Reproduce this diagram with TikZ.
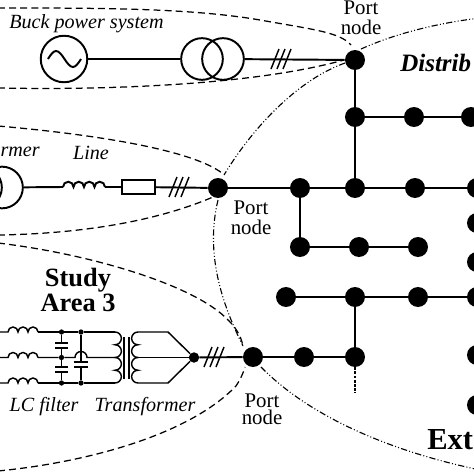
\documentclass[tikz,border=0pt]{standalone}
\usepackage{fontspec}
\setmainfont{Liberation Serif}
\usetikzlibrary{positioning}

\begin{document}
\begin{tikzpicture}[
    x=0.72pt, y=0.72pt,
    every node/.style={align=center, inner sep=0pt},
    wire/.style={line width=1.4pt},
    thin wire/.style={line width=1.05pt},
    bus/.style={circle, fill=black, minimum size=14.4pt},
    tiny bus/.style={circle, fill=black, minimum size=3.8pt},
    hub/.style={circle, fill=black, minimum size=7.5pt},
    source/.style={circle, draw, line width=1.4pt, minimum size=33.5pt},
    winding/.style={circle, draw, line width=1.4pt, minimum size=30pt},
    resistor/.style={draw, line width=1.4pt, fill=white, minimum width=23.5pt, minimum height=9.5pt},
    area/.style={line width=0.9pt, dash pattern=on 5pt off 3pt},
    boundary/.style={line width=0.8pt, dash pattern=on 4.5pt off 1.6pt on 0.7pt off 1.6pt on 0.7pt off 1.6pt},
    port/.style={font=\fontsize{15}{15}\selectfont},
    kind/.style={font=\fontsize{14.5}{15}\selectfont\itshape}
]
\useasboundingbox (0,0) rectangle (474,474);
\clip (0,0) rectangle (474,474);

% buck power system
\node[source] (grid) at (64,415) {};
\node[winding] (trA) at (202,415) {};
\node[winding] (trB) at (223,415) {};
\node[bus] (portA) at (355,414) {};
\draw[wire] (grid) -- (trA);
\draw[wire] (trB) -- (portA);
\draw[wire] (48,415) sin (56,423) cos (64.5,415) sin (73,407) cos (81,415);
\foreach \x in {271,277,283} \draw[thin wire] (\x,405) -- (\x+8,425);

% study area 2
\node[winding] (trC) at (2,286.5) {};
\node[winding] (trD) at (-19,286.5) {};
\node[bus] (portB) at (218,286) {};
\node[resistor] (res) at (138.5,287) {};
\coordinate (lineA) at (63,287);
\coordinate (lineB) at (105,287);
\draw[wire] (trC) -- (lineA);
\draw[wire] (lineA) arc[start angle=180,end angle=0,radius=5.25]
    arc[start angle=180,end angle=0,radius=5.25]
    arc[start angle=180,end angle=0,radius=5.25]
    arc[start angle=180,end angle=0,radius=5.25];
\draw[wire] (lineB) -- (res);
\draw[wire] (res) -- (portB);
\foreach \x in {169,175,181} \draw[thin wire] (\x,277) -- (\x+8,297);

% distribution network
\node[bus] (b1) at (355,357) {};
\node[bus] (b2) at (414,357) {};
\node[bus] (b3) at (471,357) {};
\node[bus] (c1) at (300,286) {};
\node[bus] (c2) at (355,286) {};
\node[bus] (c3) at (415,286) {};
\node[bus] (c4) at (477,286) {};
\node[bus] (d1) at (300,227) {};
\node[bus] (d2) at (359,227) {};
\node[bus] (d3) at (418,227) {};
\node[bus] (e1) at (286,177) {};
\node[bus] (e2) at (355,177) {};
\node[bus] (e3) at (418,177) {};
\node[bus] (e4) at (477,177) {};
\node[bus] (portC) at (253,117) {};
\node[bus] (f1) at (304,117) {};
\node[bus] (f2) at (355,117) {};
\node[bus] (g1) at (477,251) {};
\node[bus] (g2) at (477,212) {};
\node[bus] (g3) at (477,119) {};
\node[bus] (g4) at (477,69) {};
\coordinate (fEnd) at (355,81);
\draw[wire] (portA) -- (b1) -- (c2);
\draw[wire] (b1) -- (b2) -- (b3);
\draw[wire] (portB) -- (c1) -- (c2) -- (c3) -- (c4);
\draw[wire] (c1) -- (d1) -- (d2) -- (d3);
\draw[wire] (e1) -- (e2) -- (e3) -- (e4);
\draw[wire] (e2) -- (f2);
\draw[wire] (portC) -- (f1) -- (f2);
\draw[wire, dash pattern=on 2pt off 1pt] (f2) -- (fEnd);

% study area 3
\node[hub] (star) at (194,116.5) {};
\node[tiny bus] (capA1) at (61.5,142) {};
\node[tiny bus] (capA2) at (61.5,116.5) {};
\node[tiny bus] (capA3) at (61.5,91) {};
\node[tiny bus] (capB1) at (81,142) {};
\node[tiny bus] (capB3) at (81,91) {};
\draw[wire] (star) -- (portC);
\foreach \x in {204,210,216} \draw[thin wire] (\x,107) -- (\x+8,127);
\foreach \y in {142,116.5,91} {
  \draw[thin wire] (0,\y) -- (8,\y) arc[start angle=180,end angle=0,radius=5]
    arc[start angle=180,end angle=0,radius=5] arc[start angle=180,end angle=0,radius=5] -- (38,\y);
}
\draw[thin wire] (38,142) -- (capA1) -- (capB1) -- (115,142);
\draw[thin wire] (38,116.5) -- (capA2) -- (75,116.5) arc[start angle=180,end angle=0,radius=6] -- (115,116.5);
\draw[thin wire] (38,91) -- (capA3) -- (capB3) -- (115,91);
\draw[thin wire] (capA1) -- (61.5,131) (55,131) -- (68,131) (55,126) -- (68,126) (61.5,126) -- (capA2);
\draw[thin wire] (capA2) -- (61.5,107) (55,107) -- (68,107) (55,102) -- (68,102) (61.5,102) -- (capA3);
\draw[thin wire] (capB1) -- (81,112) (74,112) -- (88,112) (74,107) -- (88,107) (81,107) -- (capB3);
\draw[thin wire] (115,142) arc[start angle=90,end angle=-90,radius=6.375]
    arc[start angle=90,end angle=-90,radius=6.375]
    arc[start angle=90,end angle=-90,radius=6.375]
    arc[start angle=90,end angle=-90,radius=6.375];
\draw[thin wire] (124,137) -- (124,95) (129,137) -- (129,95);
\draw[thin wire] (138,142) arc[start angle=90,end angle=270,radius=6.375]
    arc[start angle=90,end angle=270,radius=6.375]
    arc[start angle=90,end angle=270,radius=6.375]
    arc[start angle=90,end angle=270,radius=6.375];
\draw[thin wire] (138,142) -- (168,142) -- (star);
\draw[thin wire] (138,91) -- (168,91) -- (star);
\draw[thin wire] (138,116.5) -- (star);

% study areas
\draw[area] (-2,466) .. controls (100,466) and (190,466) .. (260,454) .. controls (310,445) and (340,442) .. (351,429);
\draw[area] (-2,386) .. controls (100,384) and (250,388) .. (344,414);
\draw[area] (-2,348) .. controls (90,340) and (190,325) .. (222,301);
\draw[area] (-2,239) .. controls (70,240) and (150,250) .. (213,277);
\draw[area] (-2,231) .. controls (90,220) and (190,190) .. (225,157) .. controls (236,147) and (241,138) .. (243,128);
\draw[area] (-2,3) .. controls (90,12) and (190,40) .. (236,88) .. controls (240,94) and (243,100) .. (245,107);

% distribution boundary
\draw[boundary] (361,425) .. controls (390,438) and (430,450) .. (480,456);
\draw[boundary] (345,411) .. controls (300,395) and (255,350) .. (224,299);
\draw[boundary] (218,274) .. controls (205,220) and (222,170) .. (243,128);
\draw[boundary] (261,107) .. controls (305,62) and (380,25) .. (480,4);

% labels
\node[port, anchor=base] (portAlabel) at (361,439) {Port\\node};
\node[port, anchor=base] (portBlabel) at (251,239) {Port\\node};
\node[port, anchor=base] (portClabel) at (262,50) {Port\\[-3pt]node};
\node[kind, anchor=base west] (buck) at (9,446) {Buck power system};
\node[kind, anchor=base east] (tfLeft) at (40,317) {ormer};
\node[kind, anchor=base] (lineLabel) at (91,314) {Line};
\node[kind, anchor=base] (lcLabel) at (44,62) {LC filter};
\node[kind, anchor=base] (tfLabel) at (145,62) {Transformer};
\node[anchor=base, font=\fontsize{19}{17.5}\selectfont\bfseries] (areaLabel) at (78,163) {Study\\Area 3};
\node[anchor=base west, font=\fontsize{18}{18}\selectfont\bfseries\itshape] (distLabel) at (400,403) {Distrib};
\node[anchor=base west, font=\fontsize{22}{22}\selectfont\bfseries] (extLabel) at (427,25) {Ext};
\end{tikzpicture}
\end{document}
